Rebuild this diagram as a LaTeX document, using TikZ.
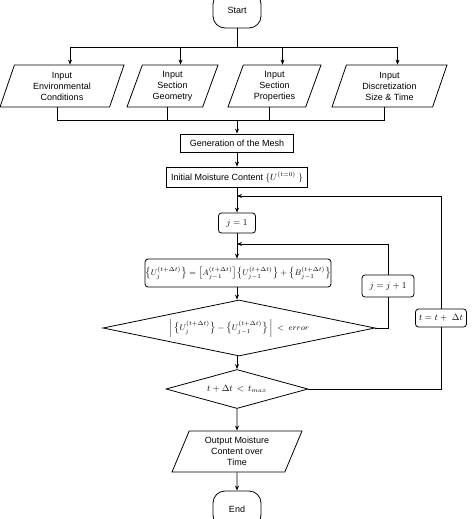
\documentclass[tikz,border=0pt]{standalone}
\usepackage{fontspec}
\setmainfont{Liberation Sans}
\usetikzlibrary{shapes.geometric,arrows.meta}
\begin{document}
\begin{tikzpicture}[x=1pt,y=-1pt,line width=0.8pt,
    every node/.style={font=\fontsize{9}{11}\selectfont,align=center,inner sep=0pt},
    term/.style={draw,rounded corners=12pt,minimum width=48pt,minimum height=36pt},
    inbox/.style={draw,trapezium,trapezium left angle=63,trapezium right angle=117,
      trapezium stretches body,minimum height=42pt},
    procbox/.style={draw},
    calcbox/.style={draw,rounded corners=3pt},
    testbox/.style={draw,diamond},
    arr/.style={-{Stealth[length=5pt,width=4pt]}}]
      \useasboundingbox (0,0) rectangle (474,519);

      \node[term] (start) at (237,10) {Start};
      \coordinate (split) at (237,47);
      \draw (start) -- (split);

      \node[inbox,minimum width=124pt] (envin) at (62,86) {Input\\Environmental\\Conditions};
      \node[inbox,minimum width=91pt] (geomin) at (172.5,86) {Input\\Section\\Geometry};
      \node[inbox,minimum width=93pt] (propin) at (274.5,86) {Input\\Section\\Properties};
      \node[inbox,minimum width=115pt] (discin) at (389.5,86) {Input\\Discretization\\Size \& Time};

      % split and join of the four inputs
      \draw ([xshift=8pt]envin.north |- split) -- ([xshift=8pt]discin.north |- split);
      \foreach \n in {envin,geomin,propin,discin}
        \draw[arr] ([xshift=8pt]\n.north |- split) -- ([xshift=8pt]\n.north);
      \coordinate (join) at (237,120);
      \foreach \n in {envin,geomin,propin,discin}
        \draw ([xshift=-5pt]\n.south) -- ([xshift=-5pt]\n.south |- join);
      \draw ([xshift=-5pt]envin.south |- join) -- ([xshift=-5pt]discin.south |- join);

      \node[procbox,minimum width=113pt,minimum height=18pt] (mesh) at (237,143) {Generation of the Mesh};
      \node[procbox,minimum width=141pt,minimum height=20pt] (init) at (237,177)
        {Initial Moisture Content $\{U^{(t=0)}\ \}$};
      \node[calcbox,minimum width=37pt,minimum height=20pt] (jone) at (237,223) {$j=1$};
      \node[calcbox,minimum width=180pt,minimum height=28pt,font=\fontsize{8}{10}\selectfont] (update) at (238,273)
        {$\bigl\{U_j^{(t+\Delta t)}\bigr\}=\bigl[A_{j-1}^{(t+\Delta t)}\bigr]\bigl\{U_{j-1}^{(t+\Delta t)}\bigr\}+\bigl\{B_{j-1}^{(t+\Delta t)}\bigr\}$};
      \node[testbox,aspect=4.86,minimum width=272pt,minimum height=56pt,font=\fontsize{8.5}{10}\selectfont] (errtest) at (239,328)
        {$\Bigl|\,\bigl\{U_j^{(t+\Delta t)}\bigr\}-\bigl\{U_{j-1}^{(t+\Delta t)}\bigr\}\,\Bigr|\;<\;error$};
      \node[calcbox,minimum width=52pt,minimum height=22pt] (jinc) at (388,286) {$j=j+1$};
      \node[calcbox,minimum width=51pt,minimum height=18pt] (tinc) at (441,318) {$t=t+\ \Delta t$};
      \node[testbox,aspect=3.64,minimum width=142pt,minimum height=39pt] (ttest) at (237,389) {$t+\Delta t\,<\,t_{max}$};
      \node[inbox,trapezium left angle=59,trapezium right angle=121,minimum width=130pt,minimum height=41pt]
        (outp) at (237,451.5) {Output Moisture\\Content over\\Time};
      \node[term] (end) at (237,509) {End};

      \draw[arr] (join) -- (mesh);
      \draw[arr] (mesh) -- (init);
      \draw[arr] (init) -- (jone);
      \draw[arr] (jone) -- (jone |- update.north);
      \draw[arr] (update.south -| jone) -- (jone |- errtest.north);
      \draw[arr] (jone |- errtest.south) -- (ttest.north);
      \draw[arr] (ttest.south) -- (outp);
      \draw[arr] (outp) -- (end);

      % inner and outer loops
      \coordinate (jback) at (237,244);
      \coordinate (tback) at (237,196);
      \draw (errtest.east) -| (jinc.south);
      \draw[arr] (jinc.north) |- (jback);
      \draw (ttest.east) -| (tinc.south);
      \draw[arr] (tinc.north) |- (tback);
    \end{tikzpicture}
\end{document}
